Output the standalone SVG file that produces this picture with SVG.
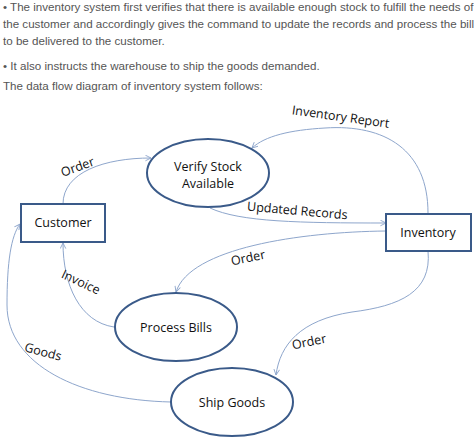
<svg xmlns="http://www.w3.org/2000/svg" width="474" height="440" viewBox="0 0 474 440">
<defs>
<style>
.para{font-family:"Liberation Sans",Arial,sans-serif;font-size:11.6px;fill:#555555}
.node{fill:#ffffff;stroke:#3a5a89;stroke-width:2}
.ntext{font-family:"Open Sans","Liberation Sans",sans-serif;font-size:12.5px;fill:#111111;text-anchor:middle}
.flow{fill:none;stroke:#8ea6cc;stroke-width:1}
.lbl{font-family:"Open Sans","Liberation Sans",sans-serif;font-size:12.5px;fill:#111111;text-anchor:middle}
</style>
<marker id="arr" viewBox="0 0 10 10" refX="9" refY="5" markerWidth="7" markerHeight="7" orient="auto" markerUnits="userSpaceOnUse">
<polyline points="1,1 9,5 1,9" fill="none" stroke="#8ea6cc" stroke-width="1.3"/>
</marker>
</defs>
<rect width="474" height="440" fill="#ffffff"/>
<g id="intro">
<text class="para" x="3" y="11">• The inventory system first verifies that there is available enough stock to fulfill the needs of</text>
<text class="para" x="3" y="28">the customer and accordingly gives the command to update the records and process the bill</text>
<text class="para" x="3" y="45">to be delivered to the customer.</text>
<text class="para" x="3" y="70">• It also instructs the warehouse to ship the goods demanded.</text>
<text class="para" x="3" y="90">The data flow diagram of inventory system follows:</text>
</g>
<g id="connectors">
<path class="flow" d="M63,204 C63,172 105,158 151,158" marker-end="url(#arr)"/>
<path class="flow" d="M428,213 C428,150 385,124 325,128 C290,130 265,136 252,148" marker-end="url(#arr)"/>
<path class="flow" d="M210,208 C240,222 300,223 386,223" marker-end="url(#arr)"/>
<path class="flow" d="M386,231 C300,232 190,248 176,292" marker-end="url(#arr)"/>
<path class="flow" d="M114,327 C80,322 63,285 63,243" marker-end="url(#arr)"/>
<path class="flow" d="M171,402 C80,400 7,365 7,305 C7,262 11,236 20,224" marker-end="url(#arr)"/>
<path class="flow" d="M428,251 C432,292 400,306 352,312 C300,320 280,345 276,375" marker-end="url(#arr)"/>
<text class="lbl" transform="translate(79,171) rotate(-20)">Order</text>
<text class="lbl" transform="translate(340,121) rotate(8)">Inventory Report</text>
<text class="lbl" transform="translate(297,215) rotate(5)">Updated Records</text>
<text class="lbl" transform="translate(249,262) rotate(-12)">Order</text>
<text class="lbl" transform="translate(79,286) rotate(25)">Invoice</text>
<text class="lbl" transform="translate(42,356) rotate(15)">Goods</text>
<text class="lbl" transform="translate(310,346) rotate(-12)">Order</text>
</g>
<g id="customer">
<rect class="node" x="21" y="204" width="84" height="38"/>
<text class="ntext" x="63" y="227">Customer</text>
</g>
<g id="verify-stock">
<ellipse class="node" cx="208" cy="173" rx="61" ry="34"/>
<text class="ntext" x="208" y="171">Verify Stock</text>
<text class="ntext" x="208" y="188">Available</text>
</g>
<g id="inventory">
<rect class="node" x="386" y="214" width="85" height="37"/>
<text class="ntext" x="428" y="237">Inventory</text>
</g>
<g id="process-bills">
<ellipse class="node" cx="176" cy="327" rx="61" ry="34"/>
<text class="ntext" x="176" y="332">Process Bills</text>
</g>
<g id="ship-goods">
<ellipse class="node" cx="232" cy="402" rx="61" ry="34"/>
<text class="ntext" x="232" y="407">Ship Goods</text>
</g>
</svg>
